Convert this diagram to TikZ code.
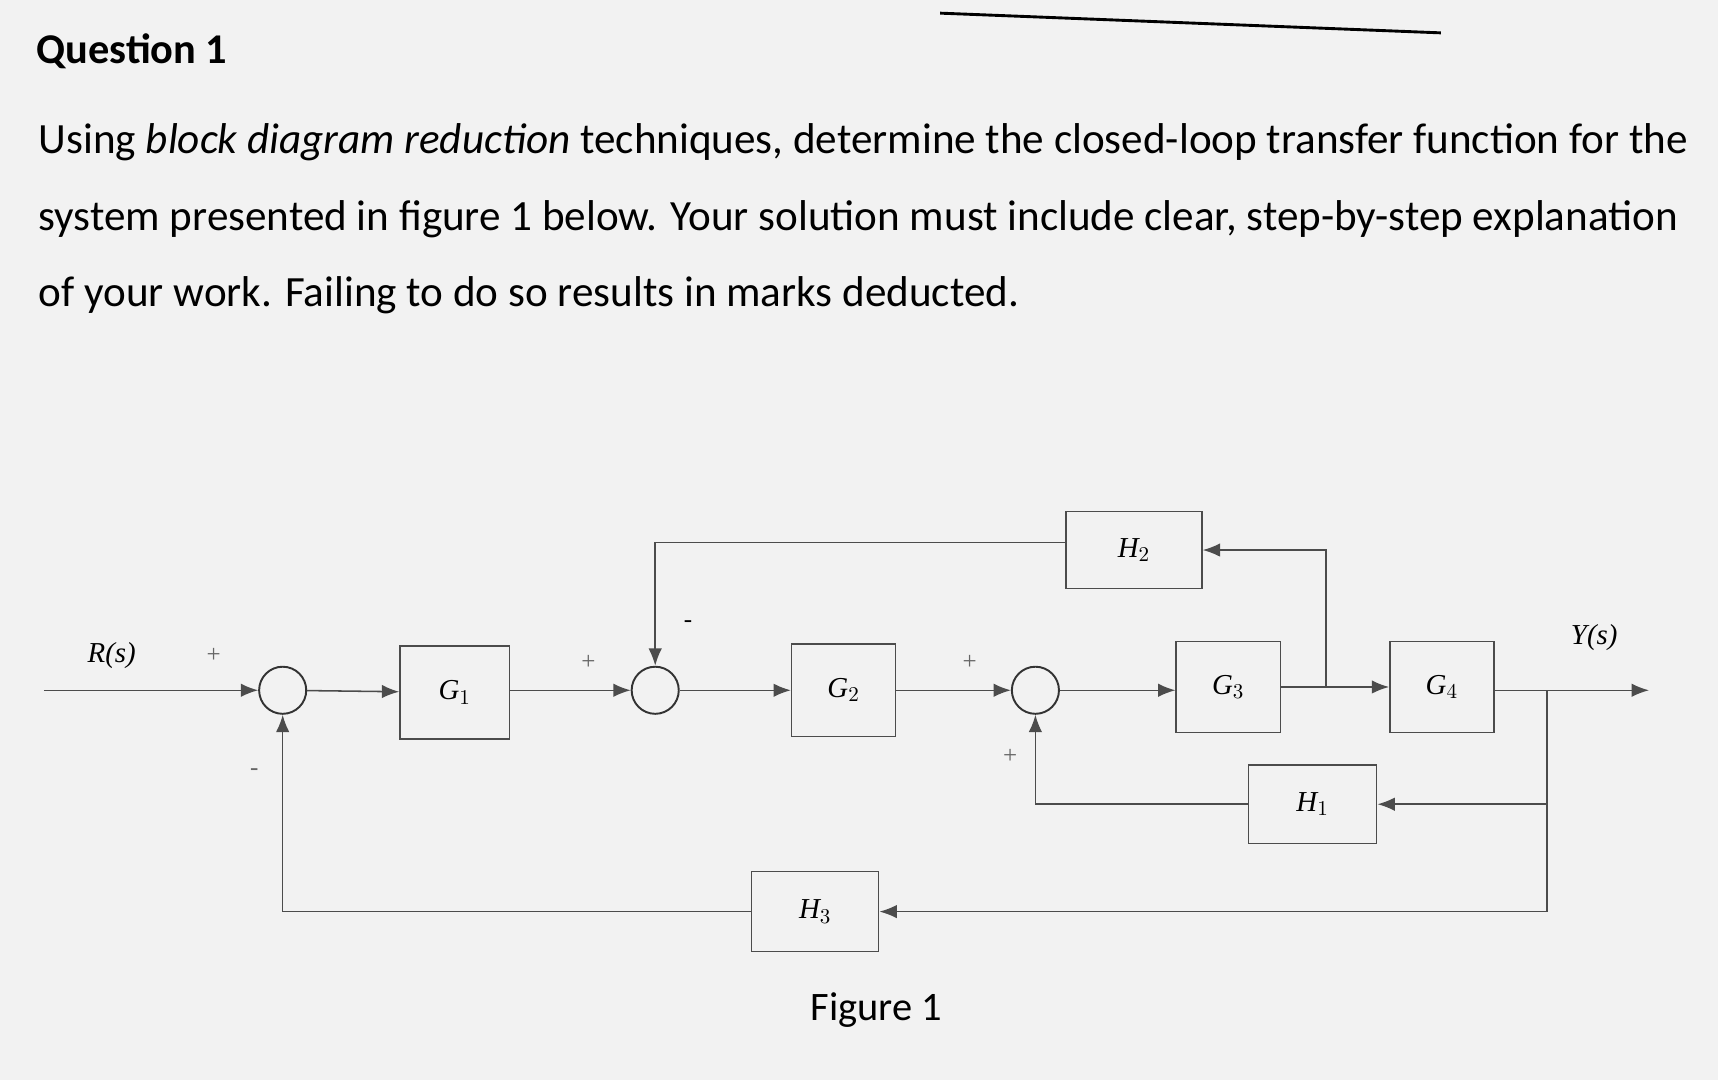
\documentclass[tikz,border=0pt]{standalone}
\usepackage{fontspec}
\setmainfont{Carlito}
\newfontfamily\dserif{Liberation Serif}
\usetikzlibrary{arrows.meta}
\begin{document}
\begin{tikzpicture}[x=0.02cm,y=-0.02cm,
  blk/.style={draw=black!70,line width=0.8pt,inner sep=0pt},
  sumj/.style={circle,draw=black!80,line width=1pt,minimum size=0.86cm,inner sep=0pt},
  ln/.style={draw=black!70,line width=0.8pt},
  ar/.style={ln,-{Latex[length=9pt,width=7pt]}},
  lab/.style={font=\dserif\itshape\fontsize{15}{15}\selectfont},
  sg/.style={font=\dserif\fontsize{13}{13}\selectfont,text=black!60},
  para/.style={anchor=base west,inner sep=0pt,font=\fontsize{22.4}{24}\selectfont}]
\fill[black!5] (0,0) rectangle (1568,986);
\useasboundingbox (0,0) rectangle (1568,986);
\draw[line width=1.5pt] (858,12) -- (1315,30);
\node[para,font=\bfseries\fontsize{22}{24}\selectfont] (q) at (33,58) {Question 1};
\node[para] (p1) at (35,140) {Using \textit{block diagram reduction} techniques, determine the closed-loop transfer function for the};
\node[para] (p2) at (35,210) {system presented in figure 1 below. Your solution must include clear, step-by-step explanation};
\node[para] (p3) at (35,280) {of your work. Failing to do so results in marks deducted.};
% blocks
\node[sumj] (s1) at (258,630) {};
\node[sumj] (s2) at (598,630) {};
\node[sumj] (s3) at (945,630) {};
\node[blk,minimum width=2cm,minimum height=1.7cm,lab] (g1) at (415,632) {G$_1$};
\node[blk,minimum width=1.9cm,minimum height=1.68cm,lab] (g2) at (770,630) {G$_2$};
\node[blk,minimum width=1.9cm,minimum height=1.66cm,lab] (g3) at (1121,627) {G$_3$};
\node[blk,minimum width=1.9cm,minimum height=1.66cm,lab] (g4) at (1316,627) {G$_4$};
\node[blk,minimum width=2.48cm,minimum height=1.4cm,lab] (h2) at (1035,502) {H$_2$};
\node[blk,minimum width=2.34cm,minimum height=1.44cm,lab] (h1) at (1198,734) {H$_1$};
\node[blk,minimum width=2.32cm,minimum height=1.46cm,lab] (h3) at (744,832) {H$_3$};
\coordinate (in) at (40,630);
\coordinate (b1) at (1210,627);
\coordinate (b2) at (1412,630);
\coordinate (out) at (1505,630);
% forward path
\draw[ar] (in) -- (s1);
\draw[ar] (s1) -- (g1);
\draw[ar] (g1.east|-s2) -- (s2);
\draw[ar] (s2) -- (g2.west|-s2);
\draw[ar] (g2.east|-s3) -- (s3);
\draw[ar] (s3) -- (g3.west|-s3);
\draw[ln] (g3.east|-b1) -- (b1);
\draw[ar] (b1) -- (g4.west|-b1);
\draw[ar] (g4.east|-out) -- (out);
% H2 loop
\draw[ar] (b1) |- (h2.east);
\draw[ar] (h2.west|-0,495) -| (s2.north);
% H1 loop
\draw[ar] (b2) |- (h1.east);
\draw[ar] (h1.west) -| (s3.south);
% H3 loop
\draw[ar] (b2) |- (h3.east);
\draw[ar] (h3.west) -| (s1.south);
% labels
\node[lab] (rs) at (102,598) {R(s)};
\node[lab] (ys) at (1455,582) {Y(s)};
\node[sg] (sa) at (195,598) {+};
\node[sg] (sb) at (232,705) {-};
\node[sg] (sc) at (537,605) {+};
\node[sg,text=black] (sd) at (628,570) {-};
\node[sg] (se) at (885,605) {+};
\node[sg] (sf) at (922,690) {+};
\node[font=\fontsize{21}{24}\selectfont] (fig) at (800,922) {Figure 1};
\end{tikzpicture}
\end{document}
